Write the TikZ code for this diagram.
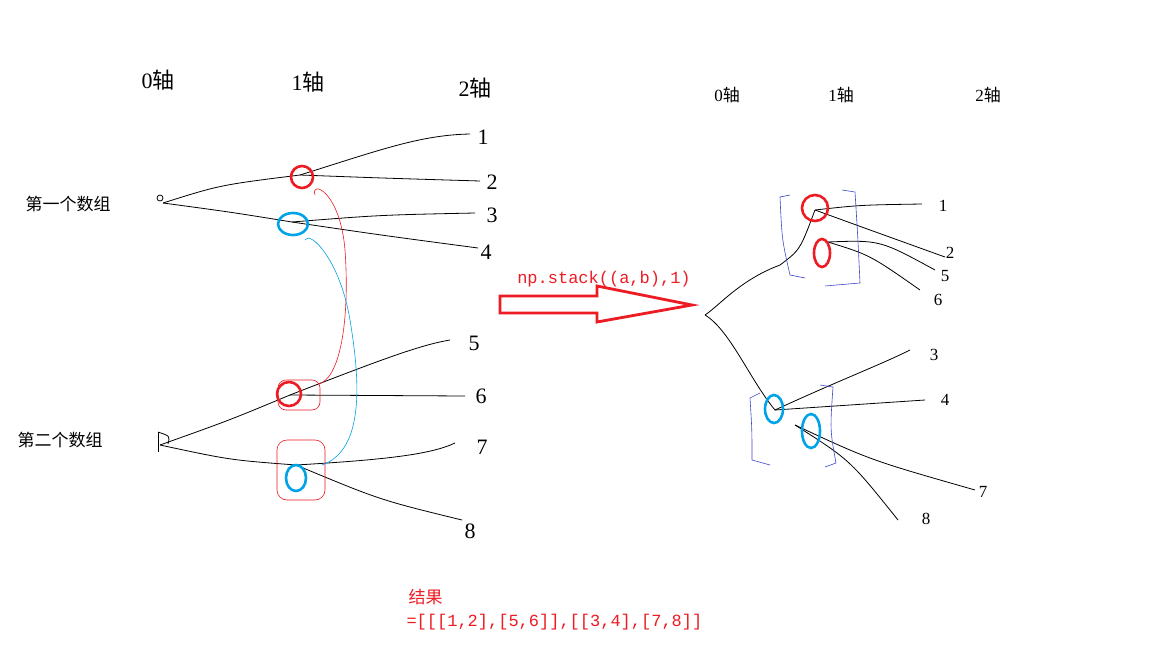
\documentclass[tikz,border=0pt]{standalone}
\usepackage{fontspec}
\setmainfont{Liberation Serif}
\setmonofont{Liberation Mono}
\newfontfamily\cjk{Noto Sans CJK SC}
\definecolor{rd}{RGB}{237,28,36}
\definecolor{bl}{RGB}{0,162,232}
\definecolor{pb}{RGB}{63,72,204}
\begin{document}
\begin{tikzpicture}[x=1pt,y=-1pt,
  ln/.style={black,line width=0.8pt},
  rc/.style={rd,line width=2.6pt},
  bc/.style={bl,line width=2.6pt},
  big/.style={font=\fontsize{22}{22}\selectfont},
  sm/.style={font=\fontsize{17}{17}\selectfont},
  cj/.style={font=\cjk\fontsize{17}{17}\selectfont},
  tt/.style={rd,font=\ttfamily\fontsize{17}{17}\selectfont}]
\useasboundingbox[fill=white] (0,0) rectangle (1152,648);
% left axis labels
\node[big] (a0) at (158,80) {0{\cjk 轴}};
\node[big] (a1) at (308,82) {1{\cjk 轴}};
\node[big] (a2) at (475,88) {2{\cjk 轴}};
\node[cj] (g1) at (68,204) {第一个数组};
\node[cj] (g2) at (60,440) {第二个数组};
% first array
\coordinate (r1) at (163,203);
\draw[ln] (160,198) circle (3);
\coordinate (b1) at (300,175); \coordinate (b2) at (292,222);
\draw[ln] (r1) .. controls (220,185) .. (b1);
\draw[ln] (r1) .. controls (230,212) .. (b2);
\draw[ln] (b1) .. controls (380,150) and (420,135) .. (470,134);
\draw[ln] (b1) .. controls (380,178) .. (480,181);
\draw[ln] (b2) .. controls (380,215) .. (475,213);
\draw[ln] (b2) .. controls (380,235) .. (478,248);
\node[big] (n1) at (483,137) {1};
\node[big] (n2) at (492,182) {2};
\node[big] (n3) at (492,215) {3};
\node[big] (n4) at (486,252) {4};
\draw[rc] (302,177) circle (11);
\draw[bc] (293,224) ellipse (15 and 11);
% second array
\coordinate (r2) at (160,445);
\draw[ln] (158,432) -- (158,452); \draw[ln] (158,432) .. controls (170,436) .. (168,444);
\coordinate (b3) at (290,395); \coordinate (b4) at (296,465);
\draw[ln] (r2) .. controls (230,420) .. (b3);
\draw[ln] (r2) .. controls (230,460) .. (b4);
\draw[ln] (b3) .. controls (380,360) and (420,345) .. (450,340);
\draw[ln] (b3) -- (465,396);
\draw[ln] (b4) .. controls (380,460) and (430,455) .. (455,443);
\draw[ln] (b4) .. controls (380,500) .. (462,520);
\node[big] (n5) at (474,343) {5};
\node[big] (n6) at (481,396) {6};
\node[big] (n7) at (482,447) {7};
\node[big] (n8) at (470,531) {8};
\draw[rc] (289,394) circle (12);
\draw[bc] (296,478) ellipse (10 and 13);
\draw[rd,line width=0.6pt,rounded corners=8pt] (278,380) rectangle (320,410);
\draw[rd,line width=0.6pt,rounded corners=10pt] (277,440) rectangle (325,500);
% connecting curves
\draw[rd,line width=0.6pt] (315,195) .. controls (310,180) and (340,190) .. (345,250) .. controls (350,320) and (340,380) .. (318,384);
\draw[bl,line width=0.6pt] (305,240) .. controls (310,230) and (340,260) .. (350,320) .. controls (360,380) and (365,450) .. (322,465);
% arrow
\draw[rd,line width=2.8pt,line join=miter] (500,296) -- (597,296) -- (597,286) -- (692,305) -- (597,322) -- (597,313) -- (500,313) -- cycle;
\node[tt] (lab) at (604,279) {np.stack((a,b),1)};
\node[rd,cj,anchor=west] (res) at (405,597) {结果};
\node[tt,anchor=west] (res2) at (403,622) {=[[[1,2],[5,6]],[[3,4],[7,8]]};
% right
\node[sm] (c0) at (727,95) {0{\cjk 轴}};
\node[sm] (c1) at (841,95) {1{\cjk 轴}};
\node[sm] (c2) at (988,95) {2{\cjk 轴}};
\coordinate (R) at (705,315);
\coordinate (u) at (815,210); \coordinate (u2) at (828,242);
\coordinate (d) at (775,410); \coordinate (d2) at (795,425);
\draw[ln] (R) .. controls (720,305) and (740,280) .. (780,265) .. controls (800,250) .. (u);
\draw[ln] (R) .. controls (730,330) and (750,380) .. (d);
\draw[ln] (u) .. controls (860,205) .. (922,204);
\draw[ln] (u) .. controls (870,230) .. (945,257);
\draw[ln] (u2) .. controls (880,240) .. (935,270);
\draw[ln] (u2) .. controls (870,255) .. (920,290);
\node[sm] (m1) at (943,206) {1};
\node[sm] (m2) at (950,253) {2};
\node[sm] (m5) at (945,276) {5};
\node[sm] (m6) at (938,300) {6};
\draw[rc] (815,208) circle (13);
\draw[rc] (822,253) ellipse (8 and 14);
\draw[pb,line width=0.6pt] (790,195) -- (780,197) .. controls (782,240) .. (790,275) -- (805,278);
\draw[pb,line width=0.6pt] (842,190) -- (855,192) .. controls (858,240) .. (860,283) -- (825,286);
\draw[ln] (d) .. controls (840,380) and (880,365) .. (910,350);
\draw[ln] (d) .. controls (850,405) .. (925,400);
\draw[ln] (d2) .. controls (870,460) .. (975,490);
\draw[ln] (d2) .. controls (850,460) .. (898,520);
\node[sm] (m3) at (934,355) {3};
\node[sm] (m4) at (945,400) {4};
\node[sm] (m7) at (983,492) {7};
\node[sm] (m8) at (926,519) {8};
\draw[bc] (774,409) ellipse (9 and 14);
\draw[bc] (811,431) ellipse (9 and 17);
\draw[pb,line width=0.6pt] (760,393) -- (750,398) .. controls (752,430) .. (752,460) -- (770,465);
\draw[pb,line width=0.6pt] (820,385) -- (833,387) .. controls (830,430) .. (836,463) -- (825,467);
\end{tikzpicture}
\end{document}
